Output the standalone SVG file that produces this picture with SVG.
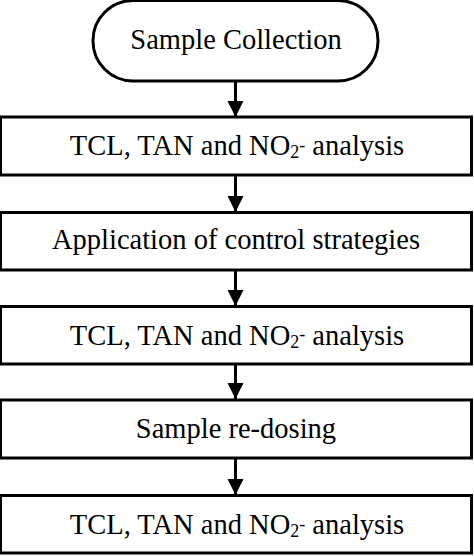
<svg xmlns="http://www.w3.org/2000/svg" width="474" height="556" viewBox="0 0 474 556">
<style>
.box{fill:#fff;stroke:#000;stroke-width:3}
.lbl{font-family:"Liberation Serif","Times New Roman",serif;font-size:28.5px;fill:#000;text-anchor:middle}
.sm{font-size:18px}
.conn{stroke:#000;stroke-width:3;fill:none}
</style>
<defs>
<marker id="ah" markerUnits="userSpaceOnUse" markerWidth="16" markerHeight="18" refX="16" refY="8" orient="auto" viewBox="0 0 16 16">
<path d="M0,0 L16,8 L0,16 Z" fill="#000"/>
</marker>
</defs>
<rect width="474" height="556" fill="#fff"/>
<g id="connectors">
<line class="conn" x1="235.5" y1="81" x2="235.5" y2="117" marker-end="url(#ah)"/>
<line class="conn" x1="235.5" y1="175" x2="235.5" y2="212" marker-end="url(#ah)"/>
<line class="conn" x1="235.5" y1="270" x2="235.5" y2="306" marker-end="url(#ah)"/>
<line class="conn" x1="235.5" y1="364" x2="235.5" y2="399" marker-end="url(#ah)"/>
<line class="conn" x1="235.5" y1="458" x2="235.5" y2="495" marker-end="url(#ah)"/>
</g>
<g id="n1">
<rect class="box" x="93" y="0.5" width="285" height="80.5" rx="40" ry="40"/>
<text class="lbl" x="236" y="49">Sample Collection</text>
</g>
<g id="n2">
<rect class="box" x="0.5" y="117" width="471" height="58"/>
<text class="lbl" x="237" y="155">TCL, TAN and NO<tspan class="sm" dy="3">2</tspan><tspan class="sm" dy="-7.5">-</tspan><tspan dy="4.5"> analysis</tspan></text>
</g>
<g id="n3">
<rect class="box" x="0.5" y="212.5" width="471" height="57.5"/>
<text class="lbl" x="236" y="249">Application of control strategies</text>
</g>
<g id="n4">
<rect class="box" x="0.5" y="306.5" width="471" height="57.5"/>
<text class="lbl" x="237" y="344.5">TCL, TAN and NO<tspan class="sm" dy="3">2</tspan><tspan class="sm" dy="-7.5">-</tspan><tspan dy="4.5"> analysis</tspan></text>
</g>
<g id="n5">
<rect class="box" x="0.5" y="400" width="471" height="58"/>
<text class="lbl" x="236" y="438">Sample re-dosing</text>
</g>
<g id="n6">
<rect class="box" x="0.5" y="495.5" width="471" height="57.5"/>
<text class="lbl" x="237" y="534">TCL, TAN and NO<tspan class="sm" dy="3">2</tspan><tspan class="sm" dy="-7.5">-</tspan><tspan dy="4.5"> analysis</tspan></text>
</g>
</svg>
